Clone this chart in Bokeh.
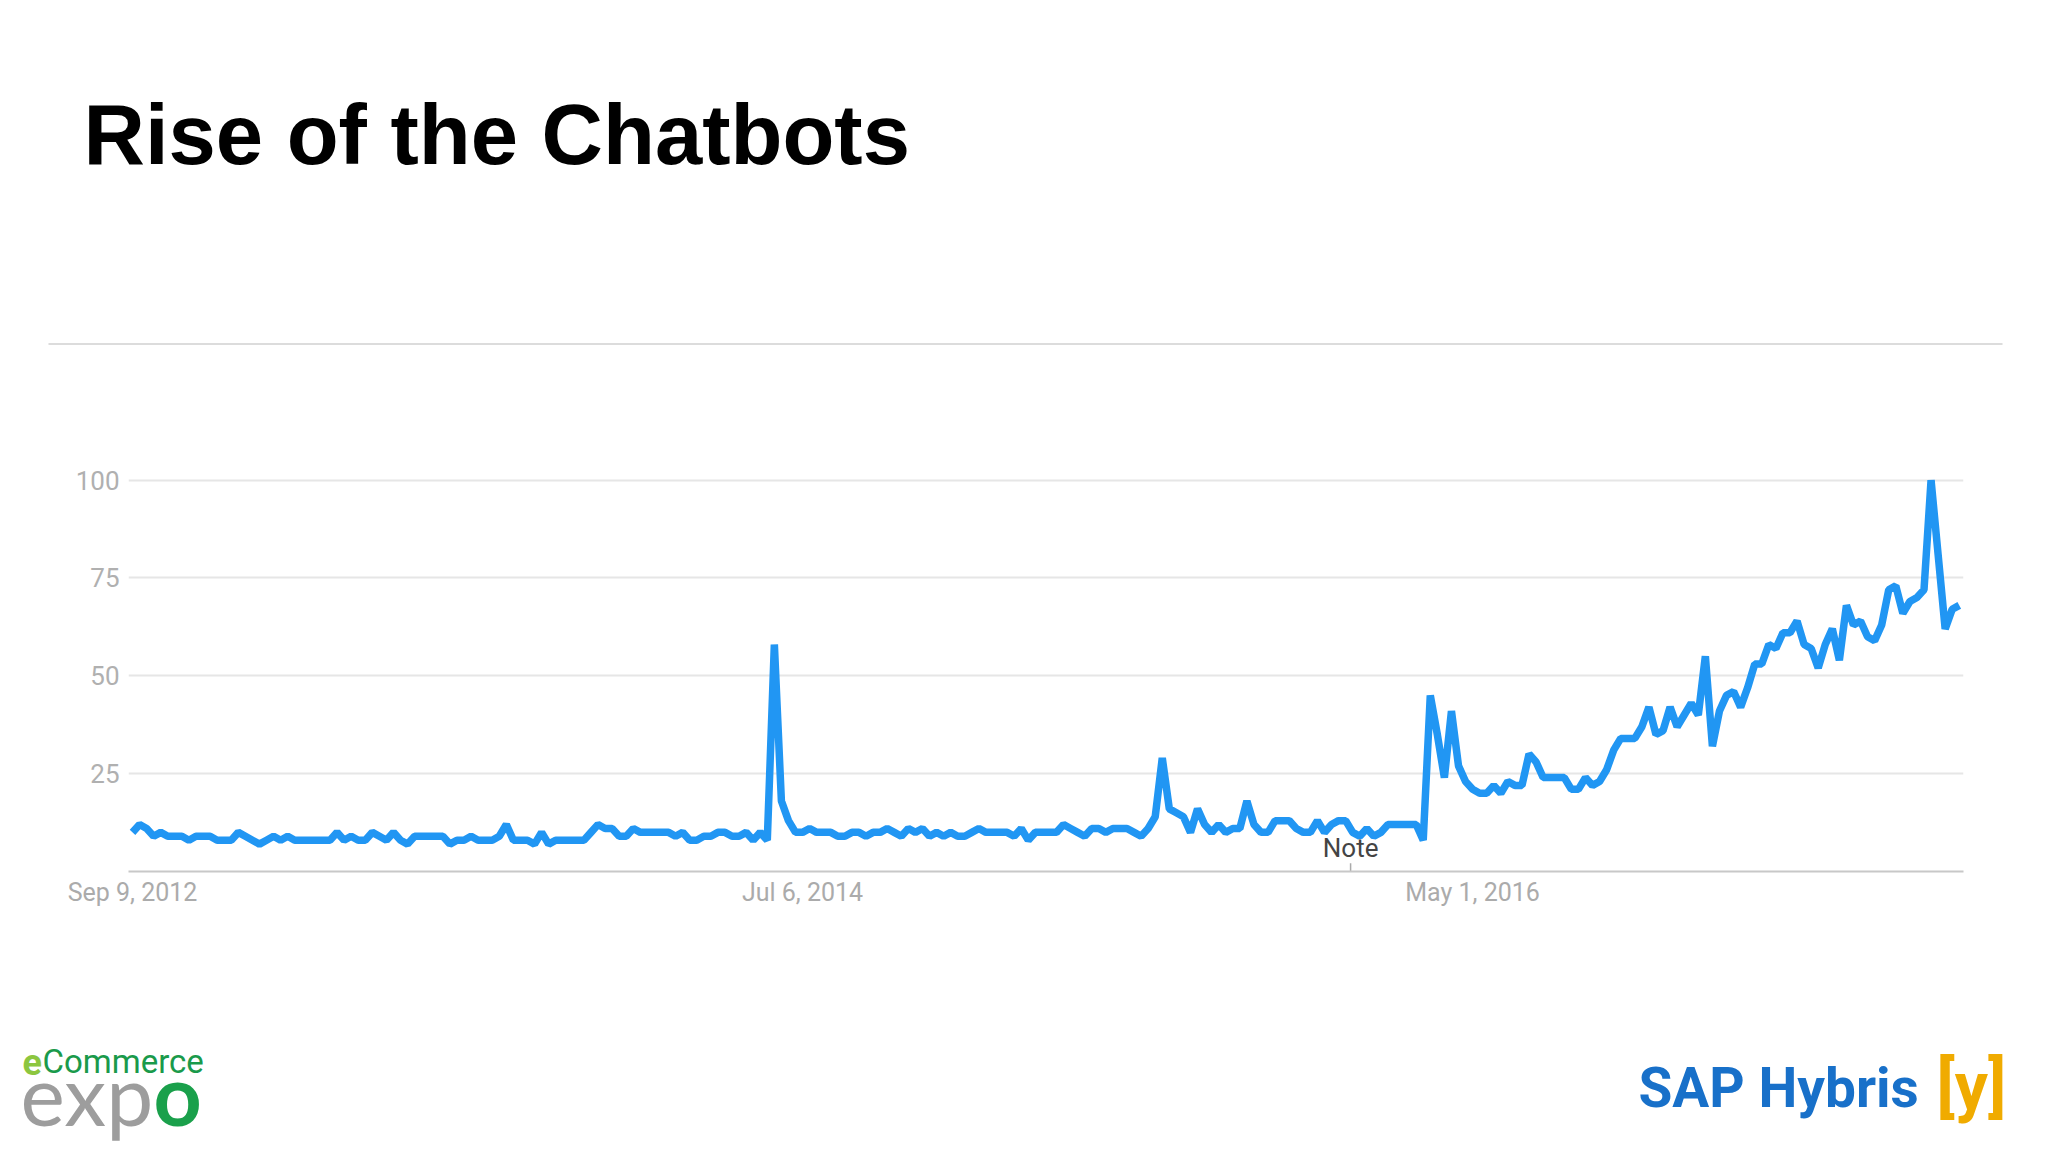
import numpy as np
from bokeh.plotting import figure
from bokeh.layouts import column, row
from bokeh.models import Range1d, FixedTicker, Label
from bokeh.embed import file_html
from bokeh.resources import INLINE

# ---------------- data ----------------
title_text = "Rise of the Chatbots"
start_date = "2012-09-09"          # first weekly point
interest = [
    10, 12, 11, 9, 10, 9, 9, 9, 8, 9,
    9, 9, 8, 8, 8, 10, 9, 8, 7, 8,
    9, 8, 9, 8, 8, 8, 8, 8, 8, 10,
    8, 9, 8, 8, 10, 9, 8, 10, 8, 7,
    9, 9, 9, 9, 9, 7, 8, 8, 9, 8,
    8, 8, 9, 12, 8, 8, 8, 7, 10, 7,
    8, 8, 8, 8, 8, 10, 12, 11, 11, 9,
    9, 11, 10, 10, 10, 10, 10, 9, 10, 8,
    8, 9, 9, 10, 10, 9, 9, 10, 8, 10,
    8, 58, 18, 13, 10, 10, 11, 10, 10, 10,
    9, 9, 10, 10, 9, 10, 10, 11, 10, 9,
    11, 10, 11, 9, 10, 9, 10, 9, 9, 10,
    11, 10, 10, 10, 10, 9, 11, 8, 10, 10,
    10, 10, 12, 11, 10, 9, 11, 11, 10, 11,
    11, 11, 10, 9, 11, 14, 29, 16, 15, 14,
    10, 16, 12, 10, 12, 10, 11, 11, 18, 12,
    10, 10, 13, 13, 13, 11, 10, 10, 13, 10,
    12, 13, 13, 10, 9, 11, 9, 10, 12, 12,
    12, 12, 12, 8, 45, 35, 24, 41, 27, 23,
    21, 20, 20, 22, 20, 23, 22, 22, 30, 28,
    24, 24, 24, 24, 21, 21, 24, 22, 23, 26,
    31, 34, 34, 34, 37, 42, 35, 36, 42, 37,
    40, 43, 40, 55, 32, 41, 45, 46, 42, 47,
    53, 53, 58, 57, 61, 61, 64, 58, 57, 52,
    58, 62, 54, 68, 63, 64, 60, 59, 63, 72,
    73, 66, 69, 70, 72, 100, 81, 62, 67, 68,
]
weeks = list(range(len(interest)))
x_tick_weeks = [0, 95, 190]
x_tick_labels = ["Sep 9, 2012", "Jul 6, 2014", "May 1, 2016"]
y_ticks = [25, 50, 75, 100]
y_tick_labels = ["25", "50", "75", "100"]
note_week = 172.7                  # Jan 1, 2016
note_text = "Note"
logo_left = ["e", "Commerce", "exp", "o"]
logo_right = ["SAP Hybris", "[y]"]

W = 2040
H_HEAD, H_CHART, H_FOOT = 400, 600, 144


def blank(height):
    f = figure(width=W, height=height, output_backend="svg", toolbar_location=None,
               x_range=Range1d(0, W), y_range=Range1d(0, height),
               x_axis_location=None, y_axis_location=None, title=None,
               min_border=0)
    f.grid.visible = False
    f.outline_line_color = None
    f.background_fill_color = "white"
    f.border_fill_color = "white"
    return f


def label(x, y, text, font, size, color, style="normal"):
    return Label(x=x, y=y, text=text, text_font=font, text_font_style=style,
                 text_font_size=size, text_color=color, text_baseline="middle")


# ---------------- header ----------------
head = blank(H_HEAD)
head.add_layout(label(83, 266, title_text, "Liberation Sans", "85px", "#000000", "bold"))
head.segment(x0=[48], y0=[56.5], x1=[2002], y1=[56.5],
             line_color="#dcdcdc", line_width=2)

# ---------------- chart ----------------
p = figure(width=W, height=H_CHART, output_backend="svg", toolbar_location=None,
           x_range=Range1d(-0.57, 259.6), y_range=Range1d(0, 104), title=None,
           min_border_left=128, min_border_right=77,
           min_border_top=64, min_border_bottom=129)
p.outline_line_color = None
p.background_fill_color = "white"
p.border_fill_color = "white"

p.xgrid.visible = False
p.ygrid.ticker = FixedTicker(ticks=y_ticks)
p.ygrid.grid_line_color = "#e6e6e6"
p.ygrid.grid_line_width = 2

xa = p.xaxis[0]
xa.ticker = FixedTicker(ticks=x_tick_weeks)
xa.major_label_overrides = dict(zip(x_tick_weeks, x_tick_labels))
xa.axis_line_color = "#c8c8c8"
xa.axis_line_width = 2
xa.major_tick_line_color = None
xa.minor_tick_line_color = None
xa.major_tick_out = 0
xa.major_tick_in = 0
xa.major_label_standoff = 6
xa.major_label_text_font = "Roboto"
xa.major_label_text_font_size = "25px"
xa.major_label_text_color = "#ababab"

ya = p.yaxis[0]
ya.ticker = FixedTicker(ticks=y_ticks)
ya.major_label_overrides = dict(zip(y_ticks, y_tick_labels))
ya.axis_line_color = None
ya.major_tick_line_color = None
ya.minor_tick_line_color = None
ya.major_tick_out = 0
ya.major_tick_in = 0
ya.major_label_standoff = 9
ya.major_label_text_font = "Roboto"
ya.major_label_text_font_size = "26px"
ya.major_label_text_color = "#b0b0b0"

p.line(weeks, interest, line_color="#2196f3", line_width=7.5)

p.segment(x0=[note_week], y0=[0], x1=[note_week], y1=[2.1],
          line_color="#aaaaaa", line_width=1.5)
p.add_layout(Label(x=note_week, y=24, x_units="data", y_units="screen",
                   text=note_text, text_font="Roboto", text_font_size="26px",
                   text_color="#444444", text_align="center",
                   text_baseline="middle"))

# ---------------- footer ----------------
foot = blank(H_FOOT)
foot.add_layout(label(22, 83, logo_left[0], "Roboto", "36px", "#8cc63f", "bold"))
foot.add_layout(label(42, 83, logo_left[1], "Roboto", "33px", "#1a9a4b"))
foot.add_layout(label(20, 51, logo_left[2], "Lato", "84px", "#9d9d9d"))
foot.add_layout(label(153, 51, logo_left[3], "Lato", "84px", "#1aa04b", "bold"))
foot.add_layout(label(1638, 57, logo_right[0], "Roboto", "55px", "#1870c9", "bold"))
foot.add_layout(label(1936, 58, logo_right[1], "Roboto", "66px", "#f0ab00", "bold"))

layout = column(row(head), row(p), row(foot), spacing=0)
open("out.html", "w").write(file_html(layout, INLINE))
